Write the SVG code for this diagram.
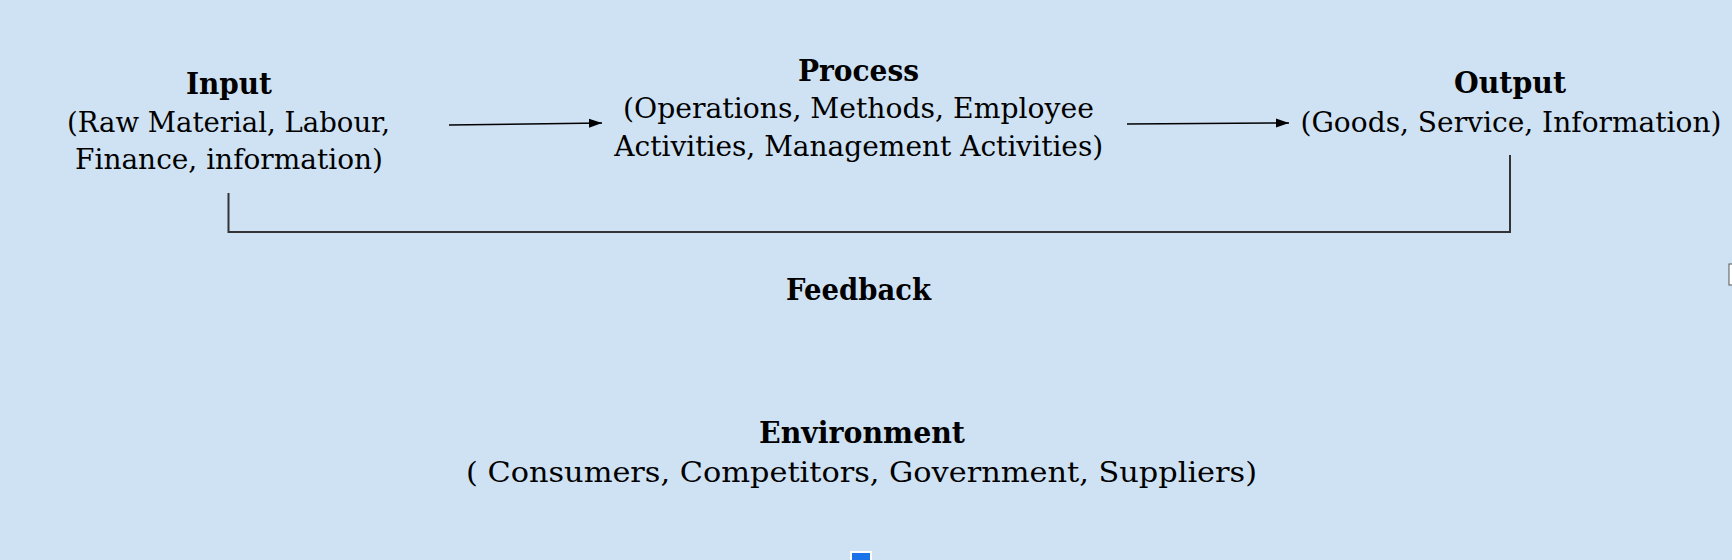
<svg xmlns="http://www.w3.org/2000/svg" width="1732" height="560" viewBox="0 0 1732 560">
<style>
.t{font-family:"DejaVu Serif","Liberation Serif",serif;font-size:27px;fill:#000;text-anchor:middle}
.b{font-family:"DejaVu Serif","Liberation Serif",serif;font-size:29px;font-weight:bold;fill:#000;text-anchor:middle}
.c{fill:none;stroke:#000;stroke-width:1.5}
.f{fill:none;stroke:#333;stroke-width:2}
</style>
<defs>
<marker id="ah" viewBox="0 0 13 10" refX="13" refY="5" markerWidth="13" markerHeight="10" markerUnits="userSpaceOnUse" orient="auto">
<path d="M0,0.5 L13,5 L0,9.5 z" fill="#000"/>
</marker>
</defs>
<rect width="1732" height="560" fill="#cfe2f3"/>
<g id="input">
<text class="b" x="229" y="94" textLength="86" lengthAdjust="spacingAndGlyphs">Input</text>
<text class="t" x="228.5" y="132" textLength="323" lengthAdjust="spacingAndGlyphs">(Raw Material, Labour,</text>
<text class="t" x="229" y="169" textLength="308" lengthAdjust="spacingAndGlyphs">Finance, information)</text>
</g>
<g id="process">
<text class="b" x="858.5" y="81" textLength="121" lengthAdjust="spacingAndGlyphs">Process</text>
<text class="t" x="858.5" y="118" textLength="471" lengthAdjust="spacingAndGlyphs">(Operations, Methods, Employee</text>
<text class="t" x="858.75" y="156" textLength="489" lengthAdjust="spacingAndGlyphs">Activities, Management Activities)</text>
</g>
<g id="output">
<text class="b" x="1510" y="93" textLength="112" lengthAdjust="spacingAndGlyphs">Output</text>
<text class="t" x="1511" y="132" textLength="421" lengthAdjust="spacingAndGlyphs">(Goods, Service, Information)</text>
</g>
<g id="feedback">
<text class="b" x="858.5" y="300" textLength="145" lengthAdjust="spacingAndGlyphs">Feedback</text>
</g>
<g id="environment">
<text class="b" x="862" y="443" textLength="206" lengthAdjust="spacingAndGlyphs">Environment</text>
<text class="t" x="861.5" y="482" textLength="791" lengthAdjust="spacingAndGlyphs">( Consumers, Competitors, Government, Suppliers)</text>
</g>
<g id="connectors">
<line class="c" x1="449" y1="125" x2="602" y2="123" marker-end="url(#ah)"/>
<line class="c" x1="1127" y1="124" x2="1289" y2="123" marker-end="url(#ah)"/>
<polyline class="f" points="228.5,193 228.5,232 1510,232 1510,155"/>
</g>
<rect x="1729" y="264" width="6" height="21" fill="#fff" stroke="#555" stroke-width="1"/>
<rect x="851" y="552" width="20" height="10" fill="#1a73e8" stroke="#fff" stroke-width="2"/>
</svg>
